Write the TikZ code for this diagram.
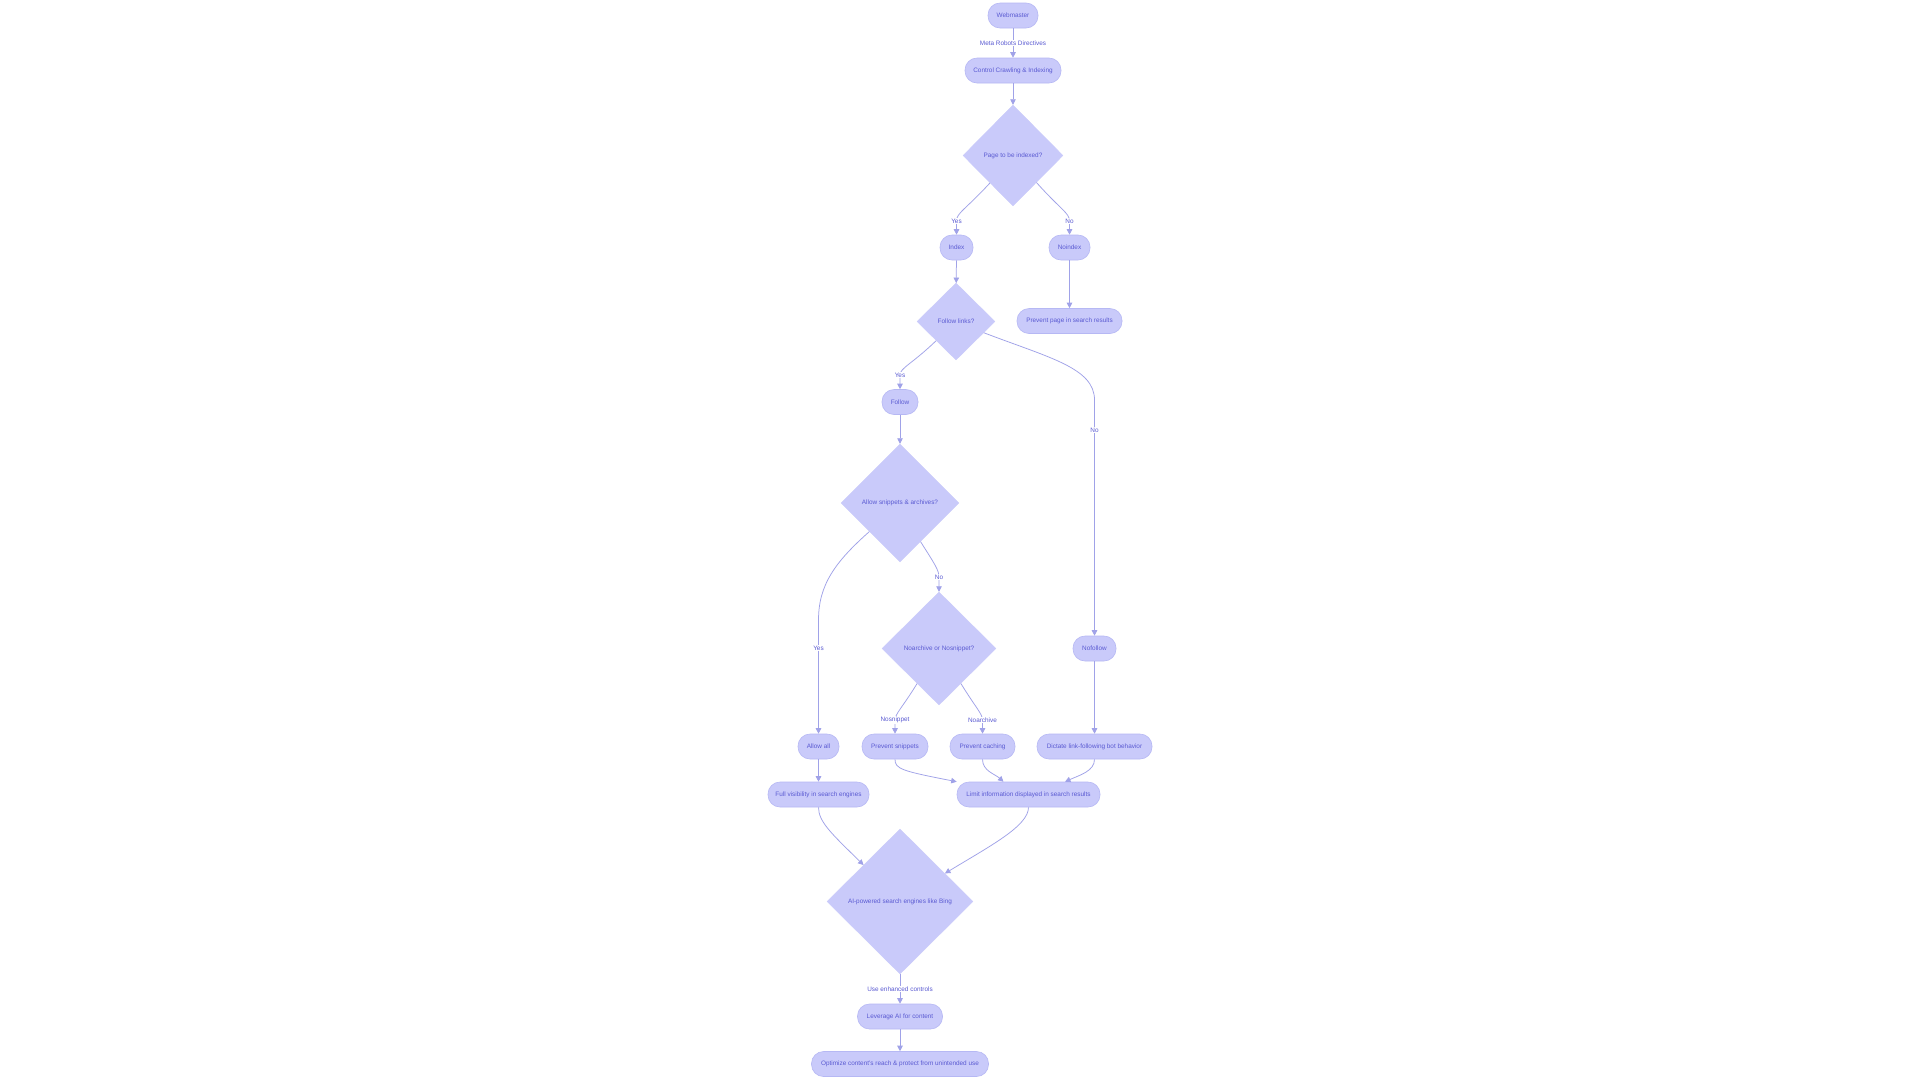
\documentclass[tikz,border=0pt]{standalone}
\usepackage{fontspec}
\setmainfont{Liberation Sans}
\usetikzlibrary{shapes.geometric,arrows.meta}
\definecolor{nfill}{HTML}{C9CAFA}
\definecolor{nline}{HTML}{B6B8F4}
\definecolor{ntext}{HTML}{5A5AD2}
\definecolor{eline}{HTML}{A0A2E8}
\tikzset{
  box/.style={draw=nline, fill=nfill, rounded corners=12pt, minimum height=25pt, inner sep=0pt,
    font=\fontsize{6.4}{7}\selectfont, text=ntext, line width=0.6pt},
  dia/.style={diamond, draw=nfill, fill=nfill, inner sep=0pt, aspect=1,
    font=\fontsize{6.4}{7}\selectfont, text=ntext},
  flow/.style={draw=eline, line width=0.75pt, -{Triangle[length=5.5pt,width=5.5pt]}},
  elab/.style={fill=white, inner sep=1pt, font=\fontsize{6.4}{7}\selectfont, text=ntext}
}
\begin{document}
\begin{tikzpicture}[x=1pt,y=-1pt]
\fill[white] (0,0) rectangle (1920,1080);
\useasboundingbox (0,0) rectangle (1920,1080);

% nodes
\node[box, minimum width=50pt] (wm) at (1013,15.5) {Webmaster};
\node[box, minimum width=96pt] (cc) at (1013,70.5) {Control Crawling \& Indexing};
\node[dia, minimum width=100pt, minimum height=101pt] (pg) at (1013,155.5) {Page to be indexed?};
\node[box, minimum width=33pt] (ix) at (956.5,247.5) {Index};
\node[box, minimum width=41pt] (ni) at (1069.5,247.5) {Noindex};
\node[dia, minimum width=78pt, minimum height=77pt] (fl) at (956,321.5) {Follow links?};
\node[box, minimum width=105pt] (pp) at (1069.5,321) {Prevent page in search results};
\node[box, minimum width=36pt] (fo) at (900,402) {Follow};
\node[dia, minimum width=118pt, minimum height=118pt] (al) at (900,503) {Allow snippets \& archives?};
\node[dia, minimum width=114pt, minimum height=113pt] (na) at (939,648.5) {Noarchive or Nosnippet?};
\node[box, minimum width=43pt] (nf) at (1094.5,648.5) {Nofollow};
\node[box, minimum width=41pt] (aa) at (818.5,746.5) {Allow all};
\node[box, minimum width=66pt] (ps) at (895,746.5) {Prevent snippets};
\node[box, minimum width=65pt] (pc) at (982.5,746.5) {Prevent caching};
\node[box, minimum width=115pt] (dl) at (1094.5,746.5) {Dictate link-following bot behavior};
\node[box, minimum width=101pt] (fv) at (818.5,794.5) {Full visibility in search engines};
\node[box, minimum width=143pt] (lim) at (1028.5,794.5) {Limit information displayed in search results};
\node[dia, minimum width=146pt, minimum height=145pt] (ai) at (900,901.5) {AI-powered search engines like Bing};
\node[box, minimum width=85pt] (lv) at (900,1016.5) {Leverage AI for content};
\node[box, minimum width=177pt] (op) at (900,1064) {Optimize content's reach \& protect from unintended use};

% edges
\draw[flow] (wm) -- node[elab]{Meta Robots Directives} (cc);
\draw[flow] (cc) -- (pg);
\draw[flow] (pg.230) .. controls (965,210) and (956.5,213) .. (956.5,221) node[elab]{Yes} -- (ix.north);
\draw[flow] (pg.311) .. controls (1061,210) and (1069.5,213) .. (1069.5,221) node[elab]{No} -- (ni.north);
\draw[flow] (ix) -- (fl);
\draw[flow] (ni) -- (pp);
\draw[flow] (fl.224) .. controls (912,364) and (900,368) .. (900,375) node[elab]{Yes} -- (fo.north);
\draw[flow] (fl.-22) .. controls (1050,358) and (1094.5,368) .. (1094.5,400) -- (1094.5,430) node[elab]{No} -- (nf.north);
\draw[flow] (fo) -- (al);
\draw[flow] (al.223) .. controls (835,562) and (818.5,585) .. (818.5,620) -- (818.5,648) node[elab]{Yes} -- (aa.north);
\draw[flow] (al.-62) .. controls (934,563) and (939,570) .. (939,577) node[elab]{No} -- (na.north);
\draw[flow] (na.238) .. controls (902,708) and (895,714) .. (895,720) node[elab]{Nosnippet} -- (ps.north);
\draw[flow] (na.-58) .. controls (976,708) and (982.5,714) .. (982.5,720) node[elab]{Noarchive} -- (pc.north);
\draw[flow] (nf) -- (dl);
\draw[flow] (aa) -- (fv);
\draw[flow] (ps.south) .. controls (895,769) and (902,771) .. (lim.north west);
\draw[flow] (pc.south) .. controls (982.5,771) and (995,774) .. ([xshift=-25pt]lim.north);
\draw[flow] (dl.south) .. controls (1094.5,771) and (1080,775) .. ([xshift=36.5pt]lim.north);
\draw[flow] (fv.south) .. controls (818.5,822) and (832,834) .. (ai.135);
\draw[flow] (lim.south) .. controls (1028.5,826) and (990,846) .. (ai.32);
\draw[flow] (ai) -- node[elab]{Use enhanced controls} (lv);
\draw[flow] (lv) -- (op);
\end{tikzpicture}
\end{document}
